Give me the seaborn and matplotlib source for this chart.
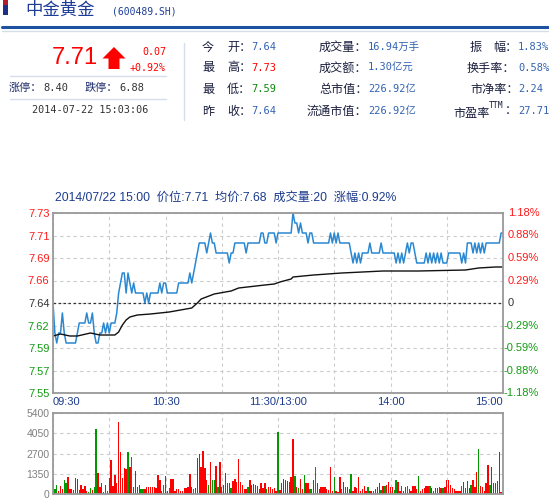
import matplotlib
matplotlib.use("Agg")
import matplotlib.pyplot as plt
import matplotlib.transforms as mtransforms
from matplotlib.lines import Line2D
from matplotlib.patches import Polygon, Rectangle
import numpy as np
import pandas as pd
import seaborn as sns

# ---------------- data ----------------
minutes = list(range(241))
price = [
    7.64, 7.61, 7.60, 7.61, 7.61, 7.63, 7.61, 7.60, 7.60, 7.60,
    7.60, 7.60, 7.60, 7.61, 7.62, 7.62, 7.62, 7.62, 7.63, 7.62,
    7.62, 7.63, 7.61, 7.60, 7.60, 7.61, 7.61, 7.62, 7.61, 7.62,
    7.61, 7.62, 7.62, 7.62, 7.63, 7.65, 7.66, 7.67, 7.67, 7.65,
    7.67, 7.66, 7.65, 7.66, 7.65, 7.65, 7.65, 7.65, 7.65, 7.64,
    7.65, 7.64, 7.65, 7.65, 7.65, 7.65, 7.65, 7.66, 7.65, 7.66,
    7.66, 7.65, 7.65, 7.65, 7.65, 7.65, 7.65, 7.66, 7.66, 7.66,
    7.66, 7.66, 7.66, 7.67, 7.66, 7.67, 7.68, 7.69, 7.70, 7.70,
    7.70, 7.70, 7.69, 7.70, 7.71, 7.70, 7.70, 7.69, 7.69, 7.69,
    7.69, 7.69, 7.69, 7.69, 7.68, 7.69, 7.69, 7.70, 7.70, 7.70,
    7.70, 7.70, 7.70, 7.69, 7.70, 7.70, 7.70, 7.70, 7.70, 7.70,
    7.70, 7.71, 7.71, 7.70, 7.70, 7.71, 7.71, 7.71, 7.71, 7.70,
    7.71, 7.71, 7.71, 7.71, 7.71, 7.71, 7.71, 7.71, 7.73, 7.72,
    7.72, 7.71, 7.72, 7.71, 7.71, 7.71, 7.70, 7.71, 7.71, 7.70,
    7.70, 7.70, 7.70, 7.70, 7.70, 7.70, 7.70, 7.70, 7.71, 7.70,
    7.71, 7.70, 7.71, 7.70, 7.70, 7.70, 7.70, 7.70, 7.70, 7.69,
    7.68, 7.69, 7.68, 7.69, 7.68, 7.69, 7.69, 7.69, 7.69, 7.70,
    7.69, 7.69, 7.69, 7.69, 7.69, 7.70, 7.69, 7.69, 7.69, 7.69,
    7.69, 7.69, 7.69, 7.68, 7.69, 7.68, 7.69, 7.68, 7.69, 7.70,
    7.69, 7.70, 7.70, 7.69, 7.68, 7.68, 7.68, 7.68, 7.68, 7.69,
    7.68, 7.69, 7.68, 7.69, 7.68, 7.69, 7.68, 7.69, 7.68, 7.68,
    7.68, 7.69, 7.69, 7.69, 7.69, 7.69, 7.69, 7.69, 7.68, 7.69,
    7.68, 7.70, 7.70, 7.70, 7.69, 7.70, 7.69, 7.70, 7.69, 7.70,
    7.69, 7.70, 7.70, 7.70, 7.70, 7.70, 7.70, 7.70, 7.70, 7.71,
    7.71,
]
avg_minutes = [0, 4, 9, 13, 20, 25, 33, 35, 37, 39, 41, 45, 52, 62, 74, 77, 79,
               86, 95, 99, 113, 118, 121, 127, 128, 139, 154, 176, 195, 220,
               227, 236, 240]
avg_price = [7.607, 7.609, 7.607, 7.607, 7.610, 7.608, 7.608, 7.611, 7.618,
             7.623, 7.626, 7.628, 7.629, 7.631, 7.635, 7.640, 7.644, 7.649,
             7.652, 7.655, 7.658, 7.659, 7.661, 7.664, 7.666, 7.668, 7.670,
             7.672, 7.672, 7.673, 7.675, 7.676, 7.676]
volume = [
    937, 312, 602, 223, 535, 312, 937, 758, 1115, 312,
    312, 268, 1048, 981, 268, 580, 312, 535, 223, 156,
    379, 268, 446, 4326, 1383, 446, 714, 156, 602, 223,
    1048, 2275, 535, 1249, 714, 4795, 2788, 1048, 1717, 1673,
    2832, 1829, 2453, 491, 1516, 491, 580, 312, 312, 312,
    491, 446, 446, 446, 446, 401, 1249, 914, 223, 580,
    1204, 223, 379, 981, 1026, 223, 312, 312, 223, 223,
    379, 379, 446, 1338, 491, 312, 379, 2386, 2654, 1829,
    2877, 1717, 959, 580, 2163, 937, 914, 1851, 446, 2141,
    446, 580, 1383, 714, 714, 379, 870, 1026, 825, 2319,
    803, 624, 312, 357, 491, 914, 580, 691, 580, 535,
    357, 758, 379, 714, 357, 468, 446, 357, 379, 223,
    4126, 268, 758, 1026, 937, 892, 780, 1115, 3657, 1204,
    446, 379, 980, 312, 1249, 758, 714, 312, 312, 914,
    1784, 714, 312, 446, 446, 446, 312, 268, 1784, 223,
    1160, 223, 156, 1115, 312, 803, 446, 446, 312, 1338,
    223, 446, 379, 1115, 223, 312, 535, 223, 446, 223,
    223, 223, 312, 446, 714, 268, 535, 535, 580, 803,
    446, 446, 268, 937, 803, 223, 535, 223, 446, 535,
    312, 223, 535, 535, 312, 1204, 223, 312, 379, 535,
    535, 535, 379, 223, 379, 379, 446, 379, 379, 446,
    937, 937, 602, 379, 312, 223, 223, 223, 535, 803,
    379, 870, 401, 580, 914, 446, 1494, 2988, 535, 446,
    223, 758, 1918, 580, 1784, 714, 714, 892, 2788, 130,
    20,
]
vol_dir = list(
    "rggrrrggrr" "rrrrrrrrrg" "grggrrrrrg" "rrrrrrrrrr" "grgrrrrggr"
    "rrrrrrrrrg" "rrgrrrrrrr" "rrrrrgrrrr" "rrrgrggrgr" "rrrrrgrrrr"
    "rrrrgrrrrr" "rrrrgrrrrr" "grrrrrrrrg" "rgrrgrrggr" "grrrrrrrrr"
    "grrrgrrrrg" "rrrrrrrrgr" "rrrrrgrgrr" "rrggrrgrrg" "rrrrrgrrrr"
    "rgrrrrrrgr" "rrrrrrrrgr" "rrrgrrrgrr" "rrrgrrrrrr" "r"
)

prev_close = 7.64
price_ticks = list(np.linspace(7.55, 7.73, 9))
price_labels = ["7.55", "7.57", "7.59", "7.62", "7.64", "7.66", "7.69", "7.71", "7.73"]
pct_labels = ["-1.18%", "-0.88%", "-0.59%", "-0.29%", "0", "0.29%", "0.59%", "0.88%", "1.18%"]
time_ticks = list(range(0, 241, 30))
time_labels = ["09:30", "", "10:30", "", "11:30/13:00", "", "14:00", "", "15:00"]
vol_ticks = [0, 1350, 2700, 4050, 5400]

stock_name = "中金黄金"
stock_code = "(600489.SH)"
last_price = "7.71"
change_abs = "0.07"
change_pct = "+0.92%"
limit_up = "8.40"
limit_down = "6.88"
quote_time = "2014-07-22 15:03:06"
col1_a = ["今", "最", "最", "昨"]
col1_b = ["开：", "高：", "低：", "收："]
col1_vals = ["7.64", "7.73", "7.59", "7.64"]
col2_labels = ["成交量：", "成交额：", "总市值：", "流通市值："]
col2_vals = ["16.94万手", "1.30亿元", "226.92亿", "226.92亿"]
col3_vals = ["1.83%", "0.58%", "2.24", "27.71"]
chart_title = "2014/07/22 15:00  价位:7.71  均价:7.68  成交量:20  涨幅:0.92%"

# ---------------- style ----------------
sns.set_theme(style="white")
plt.rcParams["font.family"] = ["Noto Sans CJK SC", "DejaVu Sans"]

RED = "#ff1a1a"
GREEN = "#129c12"
NAVY = "#1d3c8e"
VALBLUE = "#3363b0"
LABEL = "#1a1f3d"
MONO = ["DejaVu Sans Mono", "Noto Sans CJK SC"]
CJK = ["Noto Sans CJK SC", "DejaVu Sans"]
ARIAL = ["Liberation Sans", "Noto Sans CJK SC"]

W, H = 549, 499
fig = plt.figure(figsize=(W / 100, H / 100), dpi=100)
fig.patch.set_facecolor("white")


def fx(x):
    return x / W


def fy(y):
    return 1 - y / H


def txt(x, y, s, **kw):
    kw.setdefault("va", "center")
    fig.text(fx(x), fy(y), s, **kw)


# ---------------- header ----------------
fig.add_artist(Rectangle((fx(3), fy(5)), fx(5), 5 / H, transform=fig.transFigure,
                         color="#b01c2e", lw=0))
fig.add_artist(Rectangle((fx(3), fy(15)), fx(5), 10 / H, transform=fig.transFigure,
                         color="#1d2f86", lw=0))
txt(25, 10, stock_name, color="#1c3c98", fontsize=12.5, family=CJK)
txt(112, 12, stock_code, color="#1c3c98", fontsize=7, family=MONO)
fig.add_artist(Line2D([fx(2), fx(549)], [fy(27), fy(27)], transform=fig.transFigure,
                      color="#1d52a3", lw=2.2))
fig.add_artist(Line2D([fx(2), fx(549)], [fy(30.5), fy(30.5)], transform=fig.transFigure,
                      color="#d3dee8", lw=1.0))

txt(52, 58, last_price, color="#ff0000", fontsize=17, family=ARIAL)
arrow = [(114, 47), (125.5, 58.5), (119.5, 58.5), (119.5, 69), (108.5, 69),
         (108.5, 58.5), (102.5, 58.5)]
fig.add_artist(Polygon([(fx(a), fy(b)) for a, b in arrow], closed=True,
                       transform=fig.transFigure, color="#ff0000", lw=0))
txt(166, 52, change_abs, color="#ff0000", fontsize=7.2, family=MONO, ha="right")
txt(166, 68, change_pct, color="#ff0000", fontsize=7.2, family=MONO, ha="right")
for yy in (76, 99):
    fig.add_artist(Line2D([fx(10), fx(166)], [fy(yy), fy(yy)], transform=fig.transFigure,
                          color="#d5deea", lw=1.0))
fig.add_artist(Line2D([fx(184), fx(184)], [fy(43), fy(120)], transform=fig.transFigure,
                      color="#d5deea", lw=1.0))
txt(9, 88, "涨停：", color="#1b2a6b", fontsize=8, family=CJK)
txt(43, 88, limit_up, color="#333333", fontsize=7.5, family=MONO)
txt(85, 88, "跌停：", color="#1b2a6b", fontsize=8, family=CJK)
txt(119, 88, limit_down, color="#333333", fontsize=7.5, family=MONO)
txt(32, 110, quote_time, color="#333333", fontsize=7.3, family=MONO)

rows_y = [47, 68, 89, 111]
col1_colors = [VALBLUE, "#ff0000", "#0a8a0a", VALBLUE]
for i, yy in enumerate(rows_y):
    txt(202, yy, col1_a[i], color=LABEL, fontsize=8.7, family=CJK)
    txt(227, yy, col1_b[i], color=LABEL, fontsize=8.7, family=CJK)
    txt(251, yy, col1_vals[i], color=col1_colors[i], fontsize=7.5, family=MONO)
    lx = 307 if len(col2_labels[i]) == 5 else 319
    txt(lx, yy, col2_labels[i], color=LABEL, fontsize=8.7, family=CJK)
    txt(368, yy, col2_vals[i], color=VALBLUE, fontsize=7.5, family=MONO)
    txt(518, yy, col3_vals[i], color=VALBLUE, fontsize=7.5, family=MONO)
txt(470, rows_y[0], "振", color=LABEL, fontsize=8.7, family=CJK)
txt(493, rows_y[0], "幅：", color=LABEL, fontsize=8.7, family=CJK)
txt(467, rows_y[1], "换手率：", color=LABEL, fontsize=8.7, family=CJK)
txt(470, rows_y[2], "市净率：", color=LABEL, fontsize=8.7, family=CJK)
txt(453, 113, "市盈率", color=LABEL, fontsize=8.7, family=CJK)
txt(489, 106, "TTM", color=LABEL, fontsize=5.8, family=MONO)
txt(505, 111, "：", color=LABEL, fontsize=8.7, family=CJK)

# ---------------- chart title ----------------
txt(55, 198, chart_title, color=NAVY, fontsize=8.8, family=ARIAL)

# ---------------- price panel ----------------
ax = fig.add_axes([fx(53), fy(393), 450 / W, 180 / H])
sns.lineplot(x=minutes, y=price, ax=ax, color="#2a88d2", lw=1.1)
sns.lineplot(x=avg_minutes, y=avg_price, ax=ax, color="#111111", lw=1.0)
ax.axhline(prev_close, color="#333333", lw=0.9, ls=(0, (2, 2)), zorder=1)
ax.set_xlim(0, 240)
ax.set_ylim(price_ticks[0], price_ticks[-1])
ax.set_yticks(price_ticks)
ax.set_yticklabels(price_labels)
ax.set_xticks(time_ticks)
ax.set_xticklabels(time_labels)
ax.set_xlabel("")
ax.set_ylabel("")
ax.grid(True, ls=(0, (3, 3)), color="#cccccc", lw=0.8)
ax.tick_params(axis="both", length=0, labelsize=8)
ax.tick_params(axis="y", pad=2.5)
ax.tick_params(axis="x", pad=3)
for lab, val in zip(ax.get_yticklabels(), price_ticks):
    lab.set_family(ARIAL)
    if abs(val - prev_close) < 1e-6:
        lab.set_color("#333333")
    elif val > prev_close:
        lab.set_color(RED)
    else:
        lab.set_color(GREEN)
xt = ax.get_xticklabels()
for lab in xt:
    lab.set_family(ARIAL)
    lab.set_color(NAVY)
xt[0].set_ha("left")
xt[-1].set_ha("right")
trans = mtransforms.blended_transform_factory(ax.transAxes, ax.transData)
for val, lab in zip(price_ticks, pct_labels):
    if lab.startswith("-"):
        c, xo = GREEN, 1.0 + 1 / 450
    elif lab == "0":
        c, xo = "#333333", 1.0 + 5 / 450
    else:
        c, xo = RED, 1.0 + 5 / 450
    ax.text(xo, val, lab, transform=trans, color=c, fontsize=8, family=ARIAL,
            va="center", ha="left", clip_on=False)
for sp in ax.spines.values():
    sp.set_color("#999999")
    sp.set_linewidth(1.3)
    sp.set_visible(True)

# ---------------- volume panel ----------------
vax = fig.add_axes([fx(53), fy(494), 450 / W, 81 / H])
vdf = pd.DataFrame({"t": minutes, "v": volume, "d": vol_dir})
sns.barplot(data=vdf, x="t", y="v", hue="d", palette={"r": "#ff0000", "g": "#009900"},
            native_scale=True, dodge=False, width=0.7, errorbar=None, legend=False,
            saturation=1, linewidth=0, ax=vax)
for p in vax.patches:
    p.set_antialiased(False)
vax.set_xlim(0, 240)
vax.set_ylim(0, 5400)
vax.set_yticks(vol_ticks)
vax.set_yticklabels([str(v) for v in vol_ticks])
vax.set_xticks(time_ticks)
vax.set_xticklabels([])
vax.set_xlabel("")
vax.set_ylabel("")
vax.grid(True, ls=(0, (3, 3)), color="#cccccc", lw=0.8)
vax.set_axisbelow(True)
vax.tick_params(axis="both", length=0, labelsize=7.5)
vax.tick_params(axis="y", pad=2.5)
for lab in vax.get_yticklabels():
    lab.set_family(ARIAL)
    lab.set_color("#808080")
for sp in vax.spines.values():
    sp.set_color("#999999")
    sp.set_linewidth(1.3)
    sp.set_visible(True)

fig.savefig("out.png", dpi=100, facecolor="white")
